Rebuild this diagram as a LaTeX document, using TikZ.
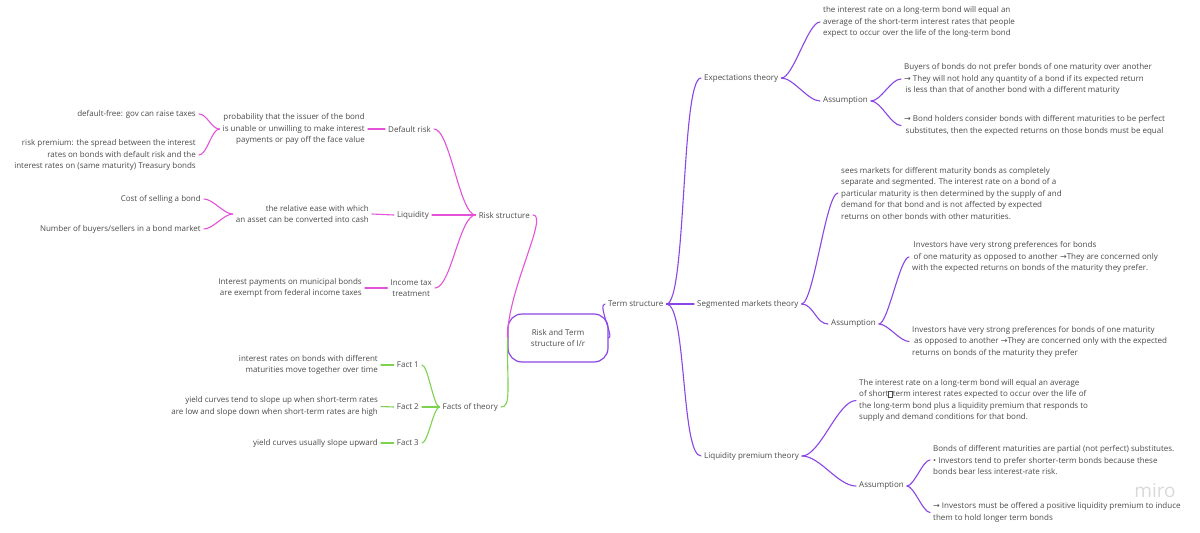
\documentclass[tikz,border=0pt]{standalone}
\usepackage{fontspec}
\setmainfont{Open Sans}
\newfontfamily\arrowfont{DejaVu Sans}
\definecolor{ink}{HTML}{4A4A4A}
\definecolor{mmpink}{HTML}{E452D8}
\definecolor{mmgreen}{HTML}{7CD14E}
\definecolor{mmpurple}{HTML}{8B44E6}
\newcommand{\rarr}{{\arrowfont →}}
\newcommand{\nobox}{{\fboxsep=0pt\fboxrule=0.4pt\fbox{\rule{0pt}{5pt}\hspace{3.5pt}}}}
\tikzset{
  txt/.style={font=\fontsize{8}{11.5}\selectfont, text=ink, inner sep=3pt},
  lt/.style={txt, anchor=east, align=right},
  rt/.style={txt, anchor=west, align=left},
  branch/.style={to path={.. controls +(#1,0) and +({-1*(#1)},0) .. (\tikztotarget) \tikztonodes}},
  pk/.style={draw=mmpink, line width=1.1pt, line cap=round},
  gr/.style={draw=mmgreen, line width=1.1pt, line cap=round},
  pu/.style={draw=mmpurple, line width=1.1pt, line cap=round}
}
\begin{document}
\begin{tikzpicture}[x=1pt, y=-1pt, line join=round]
  \useasboundingbox (0,0) rectangle (1200,533);
  % root
  \node[txt, align=center, draw=mmpurple, line width=1.2pt, rounded corners=14pt,
        minimum width=100pt, minimum height=48pt] (root) at (558,338) {Risk and Term\\structure of I/r};
  % left: risk structure
  \node[lt] (risk) at (533,215) {Risk structure};
  \node[lt] (default) at (434,129) {Default risk};
  \node[lt] (liq) at (432,215) {Liquidity};
  \node[lt, align=center] (income) at (435,288) {Income tax\\treatment};
  \node[lt] (probab) at (368,129) {probability that the issuer of the bond\\is unable or unwilling to make interest\\payments or pay off the  face value};
  \node[lt] (dfree) at (199,114) {default-free: gov can raise taxes};
  \node[lt] (rprem) at (199,155) {risk premium: the spread between the interest\\rates on bonds with default risk and the\\interest rates on  (same maturity) Treasury bonds};
  \node[lt] (ease) at (372,214) {the relative ease with which\\an asset can be converted into cash};
  \node[lt] (cost) at (204,199) {Cost of selling a bond};
  \node[lt] (buyers) at (204,229) {Number of buyers/sellers in a bond market};
  \node[lt] (muni) at (365,288) {Interest payments on municipal bonds\\are exempt from federal income taxes};
  % left: facts
  \node[lt] (facts) at (501,407) {Facts of theory};
  \foreach \n/\y in {1/365, 2/407, 3/443}{
    \node[lt] (fact\n) at (422,\y) {Fact \n};
  }
  \node[lt] (same) at (381,365) {interest rates on bonds with different\\maturities move together over time};
  \node[lt] (slope) at (381,406.5) {yield curves tend to slope up when short-term rates\\are low and slope down when short-term rates  are high};
  \node[lt] (upward) at (381,443) {yield curves usually slope upward};
  % right: term structure
  \node[rt] (term) at (605,304) {Term structure};
  \node[rt] (expect) at (701,78) {Expectations theory};
  \node[rt] (segm) at (694,304) {Segmented markets theory};
  \node[rt] (liqp) at (701,456) {Liquidity premium theory};
  \node[rt] (expdef) at (820,22) {the interest rate on a long-term bond will equal an\\average of the short-term  interest rates that people\\expect to occur over the life of  the long-term bond};
  \node[rt] (expass) at (820,101) {Assumption};
  \node[rt] (expa1) at (901,79) {Buyers of bonds do not prefer bonds of one maturity over another\\\rarr{} They will not hold any quantity of a bond if its expected return\\\hspace{1.5pt}is less than that of another  bond with a different maturity};
  \node[rt] (expa2) at (901,125.5) {\rarr{} Bond holders consider bonds with different maturities to be perfect\\\hspace{1.5pt}substitutes, then the expected returns on  those bonds must be equal};
  \node[rt] (segdef) at (838,193) {sees markets for different maturity bonds as completely\\separate and segmented. The interest rate on a bond of a\\particular maturity is then  determined by the supply of and\\demand for that bond and  is not affected by expected\\returns on other bonds with  other maturities.};
  \node[rt] (segass) at (828,324) {Assumption};
  \node[rt] (sega1) at (909,257) {\hspace{1.5pt}Investors have very strong preferences for bonds\\\hspace{1.5pt}of one maturity as opposed to another \rarr They are concerned only\\with the expected returns on bonds of the maturity they prefer.};
  \node[rt] (sega2) at (909,341.5) {Investors have very strong preferences for bonds of one maturity\\\hspace{2pt}as opposed to another \rarr They are concerned only with the expected\\returns on  bonds of the maturity they prefer};
  \node[rt] (liqdef) at (856,400.5) {The interest rate on a long-term bond will equal an average\\of short\nobox term interest rates expected to occur over the life of\\the  long-term bond plus a liquidity premium that responds to\\supply and demand conditions for that bond.};
  \node[rt] (liqass) at (856,486) {Assumption};
  \node[rt] (liqa1) at (930,460) {Bonds of different maturities are partial (not perfect) substitutes.\\• Investors tend to prefer shorter-term bonds because these\\bonds bear less interest-rate risk.};
  \node[rt] (liqa2) at (930,512.5) {\rarr{} Investors must be offered a positive liquidity premium to induce\\them to hold longer term bonds};
  \node[text=gray!30, font=\fontsize{19}{19}\selectfont, inner sep=0pt] (miro) at (1155,491) {miro};
  % connectors from the root
  \draw[pk] (root.west) .. controls +(0,-48) and +(16,0) .. (risk.east);
  \draw[gr] (root.west) .. controls +(0,52) and +(10,0) .. (facts.east);
  \draw[pu] (root.east) .. controls +(6,0) and +(-8,0) .. (term.west);
  % risk structure
  \foreach \a/\b/\d in {risk/default/-16, risk/liq/-14, risk/income/-16, probab/dfree/-8, probab/rprem/-8, ease/cost/-9, ease/buyers/-9}{
    \draw[pk] (\a.west) to[branch=\d] (\b.east);
  }
  \foreach \a/\b in {default/probab, liq/ease, income/muni}{
    \draw[pk] (\a.west) -- (\b.east);
  }
  % facts of theory
  \foreach \n/\b in {1/same, 2/slope, 3/upward}{
    \draw[gr] (facts.west) to[branch=-6] (fact\n.east);
    \draw[gr] (fact\n.west) -- (\b.east);
  }
  % term structure
  \foreach \a/\b/\d in {term/expect/20, term/segm/20, term/liqp/20, expect/expdef/12, expect/expass/12, expass/expa1/10, expass/expa2/10, segm/segdef/12, segm/segass/12, segass/sega1/9, segass/sega2/9, liqp/liqdef/18, liqp/liqass/18, liqass/liqa1/7, liqass/liqa2/7}{
    \draw[pu] (\a.east) to[branch=\d] (\b.west);
  }
\end{tikzpicture}
\end{document}
